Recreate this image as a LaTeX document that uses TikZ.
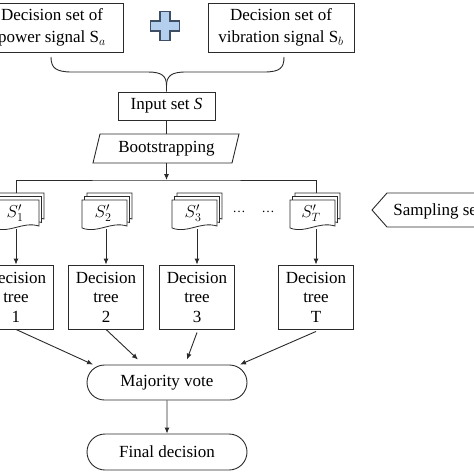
\documentclass[tikz,border=0pt]{standalone}
\usepackage{fontspec}
\setmainfont{Liberation Serif}
\usetikzlibrary{arrows.meta,shapes.misc}
\definecolor{ln}{HTML}{2B2B2B}
\definecolor{plusfill}{HTML}{B4CFEE}
\definecolor{plusline}{HTML}{3F4F63}
\begin{document}
\begin{tikzpicture}[x=1pt,y=1pt,line width=0.9pt,
  every node/.style={font=\fontsize{17}{20}\selectfont,text=black,inner sep=0pt},
  topbox/.style={draw=ln,rectangle,align=center,minimum height=49pt,font=\fontsize{17}{22}\selectfont},
  inbox/.style={draw=ln,rectangle,minimum width=97pt,minimum height=28pt},
  treebox/.style={draw=ln,rectangle,align=center,minimum width=75pt,minimum height=64pt,font=\fontsize{17}{19.5}\selectfont},
  pill/.style={draw=ln,rounded rectangle,minimum width=160pt,minimum height=35pt},
  page/.style={draw=ln,fill=white,line width=0.8pt},
  arr/.style={draw=ln,-{Latex[length=6pt,width=5pt]}},
  conn/.style={draw=ln}]
\useasboundingbox (0,0) rectangle (474,-474);
\fill[white] (0,0) rectangle (474,-474);
\clip (0,0) rectangle (474,-474);

% top boxes
\node[topbox,minimum width=142pt] (sa) at (52,-27.5) {Decision set of\\power signal S$_a$};
\node[topbox,minimum width=146pt] (sb) at (281,-27.5) {Decision set of\\vibration signal S$_b$};
% plus sign
\draw[draw=plusline,fill=plusfill,line width=1.2pt]
  (160,-11.5) -- (170,-11.5) -- (170,-21) -- (179.5,-21) -- (179.5,-31) -- (170,-31) -- (170,-40.5)
  -- (160,-40.5) -- (160,-31) -- (150.5,-31) -- (150.5,-21) -- (160,-21) -- cycle;

% input set
\node[inbox] (input) at (166.5,-106) {Input set \textit{S}};
% brace
\draw[conn] (51,-57) .. controls (51,-68) and (56,-72) .. (72,-72) -- (148,-72)
  .. controls (162,-72) and (166.5,-76) .. (166.5,-86) -- (input.north);
\draw[conn] (166.5,-86) .. controls (166.5,-76) and (171,-72) .. (186,-72) -- (264,-72)
  .. controls (280,-72) and (284,-68) .. (284,-57);

% bootstrapping
\node[minimum width=132pt,minimum height=29pt] (boot) at (166.5,-148.5) {Bootstrapping};
\draw[conn] (93,-163) -- (100,-134) -- (239,-134) -- (232,-163) -- cycle;
\draw[conn] (input) -- (boot);
\coordinate (busmid) at (166.5,-180);
\draw[arr] (boot.south) -- (busmid);

% document stacks and trees
\foreach \n/\L/\ax/\s in {1/-6/16/1, 2/82/106/2, 3/172/197/3, T/290/316/T}{
  \foreach \k [evaluate=\k as \l using \L+2.5*\k, evaluate=\k as \t using 200-3.5*\k] in {2,1,0}{
    \draw[page] (\l,-\t) -- ({\l+45},-\t) -- ({\l+45},{-\t-26})
      .. controls ({\l+28},{-\t-21}) and ({\l+16},{-\t-34}) .. (\l,{-\t-28}) -- cycle;
  }
  \node (d\n) at ({\L+21},-213) {$S'_{\s}$};
  \coordinate (d\n top) at (\ax,-193);
  \coordinate (d\n bot) at (\ax,-229);
  \node[treebox] (t\n) at (\ax,-297) {Decision\\tree\\\s};
  \draw[arr] (d\n bot) -- (t\n.north);
}
\draw[conn] (d1top) |- (busmid) -| (dTtop);

% dots
\node[font=\fontsize{13}{15}\selectfont] (dots1) at (239,-212) {…};
\node[font=\fontsize{13}{15}\selectfont] (dots2) at (268,-212) {…};

% sampling set
\draw[conn] (480,-193) -- (387,-193) -- (372,-210) -- (387,-227) -- (480,-227);
\node[anchor=west] (samp) at (393,-211) {Sampling set};

% majority vote and final decision
\node[pill] (maj) at (167,-382.5) {Majority vote};
\node[pill,minimum height=36pt] (fin) at (167,-452) {Final decision};
\draw[arr] (t1.south) -- ([xshift=-74pt]maj.north);
\draw[arr] (t2.south) -- ([xshift=-29pt,yshift=5pt]maj.north);
\draw[arr] ([yshift=-3pt]t3.south) -- ([xshift=20pt,yshift=5pt]maj.north);
\draw[arr] ([yshift=-2pt]tT.south) -- ([xshift=73pt]maj.north);
\draw[arr] (maj) -- (fin);
\end{tikzpicture}
\end{document}
